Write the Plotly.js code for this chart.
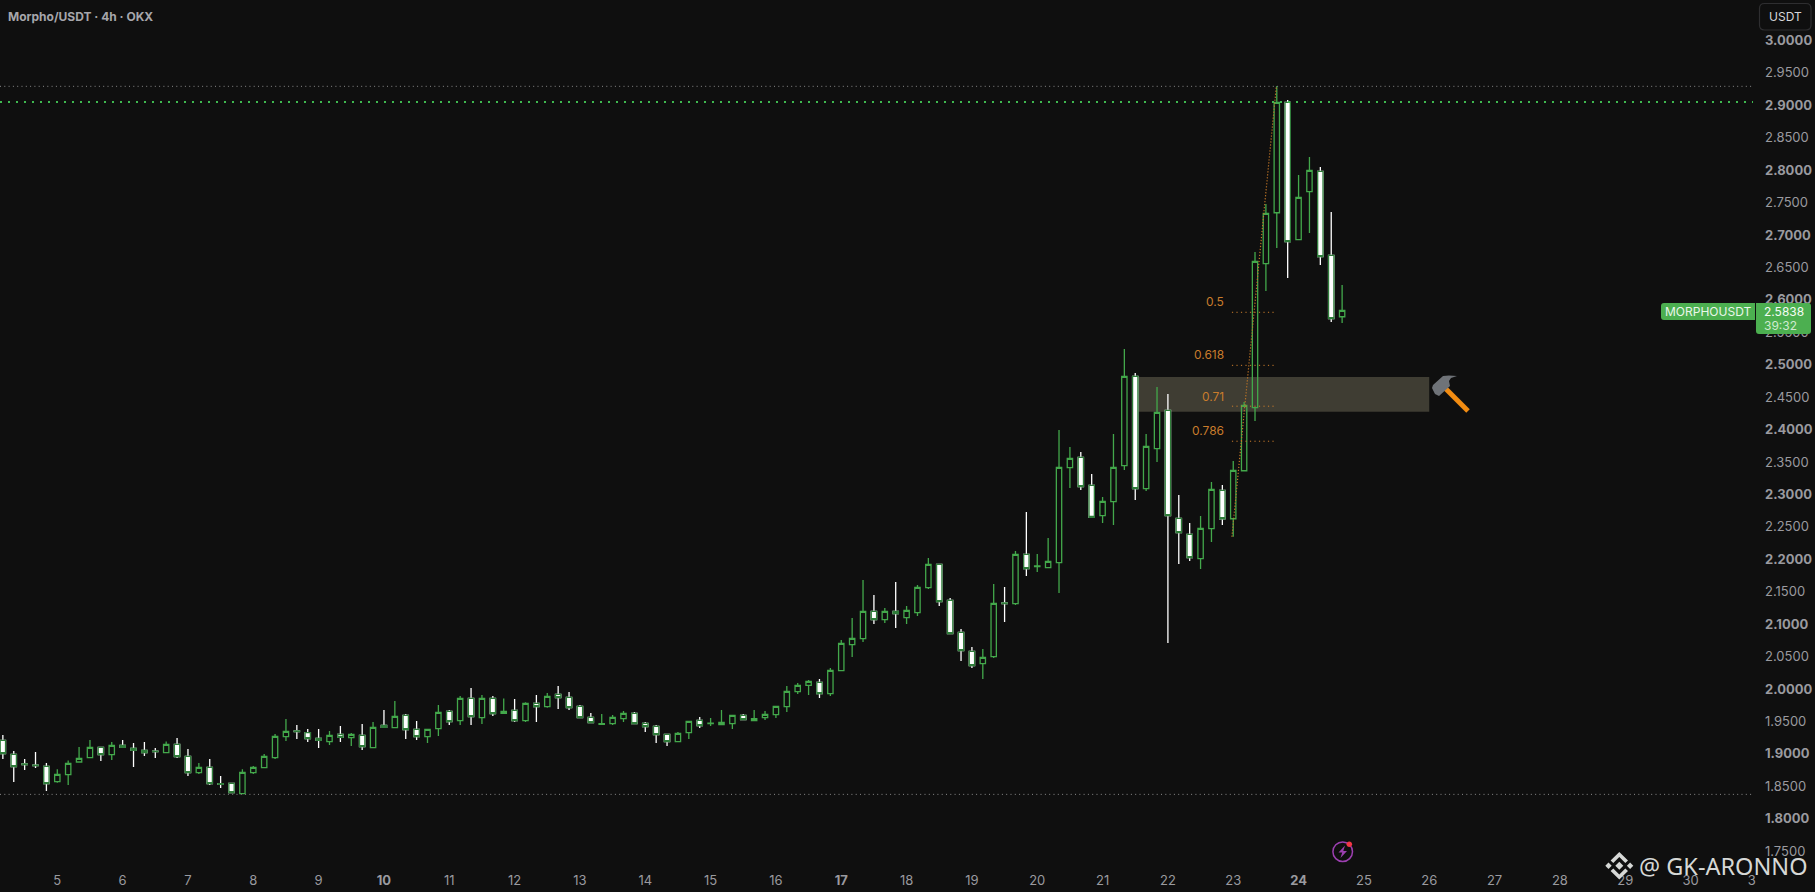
<!DOCTYPE html>
<html>
<head>
<meta charset="utf-8">
<script src="https://cdn.plot.ly/plotly-3.0.1.min.js"></script>
<style>html,body{margin:0;padding:0;background:#0f0f0f;overflow:hidden}#chart{width:1815px;height:892px}</style>
</head>
<body>
<div id="chart"></div>
<script>
// Candle data: 4h candles, first one on the 4th day at 04:00
const firstDay = 4 + 1/6;
const candlesPerDay = 6;
const opens = [1.9209,1.8993,1.8844,1.8828,1.8808,1.8572,1.8679,1.8875,1.8942,1.9101,1.8988,1.9132,1.9086,1.9055,1.9044,1.9019,1.9147,1.8962,1.8710,1.8792,1.8541,1.8546,1.8386,1.8710,1.8787,1.8942,1.9265,1.9353,1.9327,1.9240,1.9188,1.9301,1.9250,1.9286,1.9096,1.9440,1.9404,1.9594,1.9378,1.9265,1.9389,1.9656,1.9512,1.9856,1.9558,1.9856,1.9625,1.9671,1.9512,1.9779,1.9728,1.9918,1.9872,1.9733,1.9564,1.9456,1.9466,1.9543,1.9625,1.9471,1.9425,1.9301,1.9188,1.9327,1.9517,1.9466,1.9450,1.9466,1.9594,1.9512,1.9558,1.9605,1.9728,1.9959,2.0057,2.0103,1.9928,2.0283,2.0684,2.0777,2.1198,2.1070,2.1198,2.1101,2.1178,2.1563,2.1923,2.1368,2.0874,2.0581,2.0391,2.0499,2.1327,2.1317,2.2077,2.1887,2.1872,2.1949,2.3413,2.3572,2.3141,2.2673,2.2889,2.3444,2.4822,2.3089,2.3706,2.4297,2.2632,2.2385,2.2010,2.2472,2.3063,2.2626,2.3366,2.4338,2.6558,2.7344,2.9045,2.6928,2.7668,2.7981,2.6686,2.5740];
const highs = [1.9291,1.9044,1.8921,1.9029,1.8859,1.8762,1.8900,1.9106,1.9214,1.9101,1.9183,1.9214,1.9168,1.9183,1.9091,1.9193,1.9245,1.9075,1.8859,1.8921,1.8659,1.8546,1.8762,1.8813,1.8998,1.9307,1.9538,1.9445,1.9384,1.9384,1.9353,1.9430,1.9322,1.9461,1.9492,1.9677,1.9815,1.9615,1.9507,1.9378,1.9754,1.9677,1.9892,2.0016,1.9908,1.9892,1.9856,1.9846,1.9795,1.9908,1.9939,2.0047,1.9954,1.9754,1.9630,1.9615,1.9600,1.9661,1.9646,1.9492,1.9445,1.9307,1.9337,1.9507,1.9569,1.9553,1.9677,1.9600,1.9615,1.9677,1.9661,1.9733,2.0047,2.0093,2.0139,2.0155,2.0324,2.0756,2.1095,2.1681,2.1450,2.1250,2.1651,2.1280,2.1604,2.2021,2.1923,2.1404,2.0926,2.0648,2.0617,2.1620,2.1573,2.2129,2.2730,2.2082,2.2329,2.3994,2.3732,2.3655,2.3315,2.2961,2.3932,2.5243,2.4873,2.3932,2.4657,2.4549,2.2991,2.2560,2.2667,2.3192,2.3146,2.3516,2.4425,2.6738,2.7478,2.9297,2.9081,2.7925,2.8202,2.8048,2.7354,2.6229];
const lows = [1.8921,1.8566,1.8751,1.8782,1.8428,1.8556,1.8520,1.8864,1.8942,1.8890,1.8906,1.9096,1.8798,1.8967,1.8936,1.9014,1.8936,1.8659,1.8690,1.8520,1.8474,1.8402,1.8381,1.8690,1.8787,1.8921,1.9199,1.9229,1.9183,1.9091,1.9137,1.9183,1.9121,1.9060,1.9096,1.9404,1.9404,1.9229,1.9214,1.9168,1.9276,1.9445,1.9445,1.9445,1.9461,1.9584,1.9620,1.9492,1.9492,1.9492,1.9712,1.9692,1.9677,1.9558,1.9481,1.9445,1.9445,1.9492,1.9466,1.9337,1.9168,1.9121,1.9188,1.9229,1.9399,1.9430,1.9445,1.9384,1.9522,1.9507,1.9522,1.9553,1.9646,1.9923,1.9908,1.9862,1.9892,2.0283,2.0494,2.0725,2.1003,2.1018,2.0941,2.1003,2.1126,2.1543,2.1280,2.0854,2.0432,2.0324,2.0155,2.0479,2.1034,2.1296,2.1743,2.1805,2.1866,2.1481,2.3100,2.3069,2.2642,2.2560,2.2529,2.3377,2.2914,2.3053,2.3500,2.0709,2.1927,2.1974,2.1850,2.2267,2.2529,2.2349,2.3366,2.4132,2.6136,2.6799,2.6337,2.6928,2.7031,2.6537,2.5658,2.5642];
const closes = [1.9003,1.8803,1.8834,1.8818,1.8541,1.8685,1.8854,1.8931,1.9101,1.8988,1.9132,1.9101,1.9055,1.9019,1.9034,1.9147,1.8957,1.8710,1.8792,1.8541,1.8530,1.8402,1.8715,1.8792,1.8962,1.9271,1.9348,1.9343,1.9235,1.9209,1.9286,1.9255,1.9301,1.9111,1.9409,1.9409,1.9579,1.9373,1.9265,1.9378,1.9641,1.9497,1.9856,1.9574,1.9856,1.9620,1.9656,1.9512,1.9779,1.9728,1.9887,1.9867,1.9712,1.9558,1.9481,1.9466,1.9564,1.9625,1.9466,1.9420,1.9296,1.9188,1.9317,1.9502,1.9435,1.9476,1.9486,1.9594,1.9528,1.9543,1.9610,1.9733,1.9964,2.0057,2.0119,1.9928,2.0288,2.0705,2.0782,2.1198,2.1070,2.1198,2.1162,2.1214,2.1568,2.1923,2.1347,2.0854,2.0592,2.0360,2.0489,2.1322,2.1317,2.2077,2.1856,2.1897,2.1969,2.3418,2.3557,2.3120,2.2647,2.2894,2.3418,2.4822,2.3089,2.3742,2.4266,2.2673,2.2411,2.2025,2.2477,2.3079,2.2626,2.3372,2.4374,2.6594,2.7334,2.9045,2.6897,2.7581,2.7997,2.6666,2.5710,2.5838];

// Horizontal levels (price)
const topDotted = 2.9293, greenDotted = 2.9050, bottomDotted = 1.8376;
const axisStart = 4.1229, axisEnd = 30.956;
// Fibonacci levels
const fibRatios = ["0.5","0.618","0.71","0.786"];
const fibPrices = [2.5809,2.4991,2.4361,2.3821];
const fibStart = 22.98, fibEnd = 23.63;
const diagX = [22.98,23.66], diagY = [2.2349,2.9293];
// Highlight zone
const zoneDays = [21.5,26.0], zonePrices = [2.4276,2.4811];
// Tick labels
const dayVals = [5,6,7,8,9,10,11,12,13,14,15,16,17,18,19,20,21,22,23,24,25,26,27,28,29,30,30.936];
const dayText = ["5","6","7","8","9","10","11","12","13","14","15","16","17","18","19","20","21","22","23","24","25","26","27","28","29","30","3"];
const boldDays = ["10","17","24"];
const priceVals = [1.75,1.8,1.85,1.9,1.95,2.0,2.05,2.1,2.15,2.2,2.25,2.3,2.35,2.4,2.45,2.5,2.55,2.6,2.65,2.7,2.75,2.8,2.85,2.9,2.95,3.0];

const UP='#43a84b', DOWNEDGE='#2f7d3a', WHITE='#ffffff', BG='#0f0f0f', ORANGE='#c97c2c', LABEL='#4caf50';
const W=1753,H=865;
const X=v=>(v/W), Y=v=>(1-v/H);
const P=(pts,close)=>pts.map((p,i)=>(i?'L':'M')+X(p[0])+' '+Y(p[1])).join(' ')+(close?' Z':'');
function rrect(x0,y0,x1,y1,r,rs){
  const R=rs||[1,1,1,1];
  const q=(cx,cy,ex,ey)=>`Q ${X(cx)} ${Y(cy)} ${X(ex)} ${Y(ey)}`;
  const l=(ex,ey)=>`L ${X(ex)} ${Y(ey)}`;
  return `M ${X(x0+(R[0]?r:0))} ${Y(y0)} `+l(x1-(R[1]?r:0),y0)+' '+(R[1]?q(x1,y0,x1,y0+r):'')+' '+l(x1,y1-(R[2]?r:0))+' '+(R[2]?q(x1,y1,x1-r,y1):'')+' '+l(x0+(R[3]?r:0),y1)+' '+(R[3]?q(x0,y1,x0,y1-r):'')+' '+l(x0,y0+(R[0]?r:0))+' '+(R[0]?q(x0,y0,x0+r,y0):'')+' Z';
}
function circle(cx,cy,r){
  const k=.5523*r;
  const c=(a,b,d,e,f,g)=>`C ${X(a)} ${Y(b)} ${X(d)} ${Y(e)} ${X(f)} ${Y(g)}`;
  return `M ${X(cx+r)} ${Y(cy)} `+c(cx+r,cy+k,cx+k,cy+r,cx,cy+r)+' '+c(cx-k,cy+r,cx-r,cy+k,cx-r,cy)+' '+c(cx-r,cy-k,cx-k,cy-r,cx,cy-r)+' '+c(cx+k,cy-r,cx+r,cy-k,cx+r,cy)+' Z';
}

const xs = opens.map((_,i)=>firstDay+i/candlesPerDay);
const downIdx = opens.map((o,i)=>closes[i]<o?i:-1).filter(i=>i>=0);

const traces = [
  {type:'candlestick',x:xs,open:opens,high:highs,low:lows,close:closes,hoverinfo:'skip',
    increasing:{line:{color:UP,width:1.3},fillcolor:'rgba(0,0,0,0)'},
    decreasing:{line:{color:WHITE,width:1.3},fillcolor:WHITE},whiskerwidth:0},
  {type:'candlestick',x:downIdx.map(i=>xs[i]),open:downIdx.map(i=>opens[i]),close:downIdx.map(i=>closes[i]),
    high:downIdx.map(i=>opens[i]),low:downIdx.map(i=>closes[i]),hoverinfo:'skip',
    increasing:{line:{color:DOWNEDGE,width:1.3},fillcolor:WHITE},
    decreasing:{line:{color:DOWNEDGE,width:1.3},fillcolor:WHITE},whiskerwidth:0},
  {type:'scatter',mode:'lines',x:[axisStart,axisEnd],y:[topDotted,topDotted],hoverinfo:'skip',line:{color:'#8a8a8a',width:1,dash:'1px,3.3px'}},
  {type:'scatter',mode:'lines',x:[axisStart,axisEnd],y:[bottomDotted,bottomDotted],hoverinfo:'skip',line:{color:'#8a8a8a',width:1,dash:'1px,3.3px'}},
  {type:'scatter',mode:'lines',x:[axisStart,axisEnd],y:[greenDotted,greenDotted],hoverinfo:'skip',line:{color:'#3fb950',width:2,dash:'2px,6px'}},
  {type:'scatter',mode:'lines',x:diagX,y:diagY,hoverinfo:'skip',line:{color:'#c07526',width:1.2,dash:'1.2px,1.8px'}}
];
fibPrices.forEach(p=>traces.push({type:'scatter',mode:'lines',x:[fibStart,fibEnd],y:[p,p],hoverinfo:'skip',line:{color:ORANGE,width:1,dash:'1.2px,3.3px'}}));

const shapes = [
  {type:'rect',layer:'below',xref:'x',yref:'y',x0:zoneDays[0],x1:zoneDays[1],y0:zonePrices[0],y1:zonePrices[1],fillcolor:'#3f3d33',line:{width:0}},
  {type:'path',xref:'paper',yref:'paper',path:rrect(1759.5,3.5,1811,30,5),fillcolor:'rgba(0,0,0,0)',line:{color:'#2e2e30',width:1.2}},
  {type:'path',xref:'paper',yref:'paper',path:rrect(1661,303,1755,320,3,[1,0,0,1]),fillcolor:LABEL,line:{width:0}},
  {type:'path',xref:'paper',yref:'paper',path:rrect(1756,303,1811,334,3,[0,1,1,1]),fillcolor:LABEL,line:{width:0}},
  {type:'path',xref:'paper',yref:'paper',path:P([[1445,388],[1468,411]]),line:{color:'#f28c12',width:5}},
  {type:'path',xref:'paper',yref:'paper',fillcolor:'#6f7378',line:{width:0},
    path:P([[1432,388],[1433,385],[1443,376],[1449,375.5],[1457,376],[1451,378],[1449,381],[1450,386],[1439,396],[1435,394]],true)},
  {type:'path',xref:'paper',yref:'paper',path:circle(1342.7,851.7,9.8),fillcolor:'rgba(0,0,0,0)',line:{color:'#9c3fb0',width:1.5}},
  {type:'path',xref:'paper',yref:'paper',path:P([[1345,845.5],[1338.5,852.5],[1342.2,852.5],[1340.5,858],[1347,851],[1343.3,851]],true),fillcolor:'#9c3fb0',line:{width:0}},
  {type:'path',xref:'paper',yref:'paper',path:circle(1349.3,844.2,2.8),fillcolor:'#f23645',line:{width:0}},
  ...[
    [[1619.3,861.7],[1623.3,865.7],[1619.3,869.7],[1615.3,865.7]],
    [[1608.5,862.5],[1611.7,865.7],[1608.5,868.9],[1605.3,865.7]],
    [[1630.1,862.5],[1633.3,865.7],[1630.1,868.9],[1626.9,865.7]],
    [[1619.3,852],[1628,860.5],[1625.3,863],[1619.3,857],[1613.3,863],[1610.6,860.5]],
    [[1619.3,879.4],[1628,870.9],[1625.3,868.4],[1619.3,874.4],[1613.3,868.4],[1610.6,870.9]]
  ].map(pts=>({type:'path',xref:'paper',yref:'paper',path:P(pts,true),fillcolor:'#d6d8d6',line:{width:0}}))
];

const note=(text,x,y,opts)=>Object.assign({text,xref:'paper',yref:'paper',x:X(x),y:Y(y),showarrow:false,xanchor:'left',yanchor:'middle',borderpad:0,font:{family:'Inter, sans-serif',size:12,color:'#a8a8ad'}},opts||{});

const annotations = [
  note('<b>Morpho/USDT · 4h · OKX</b>',7,16.5,{font:{family:'Inter, sans-serif',size:12,color:'#a6a6ab'}}),
  note('USDT',1785.3,16.5,{xanchor:'center',font:{family:'Inter, sans-serif',size:12,color:'#d6d6da'}}),
  note('MORPHOUSDT',1708,311.5,{xanchor:'center',font:{family:'Inter, sans-serif',size:12,color:'#eaf6ea'}}),
  note('2.5838',1784,311.5,{xanchor:'center',font:{family:'Inter, sans-serif',size:12,color:'#f4fbf4'}}),
  note('39:32',1780,325.5,{xanchor:'center',font:{family:'Inter, sans-serif',size:12,color:'#cfeacf'}}),
  ...fibRatios.map((t,i)=>note(t,1225,[302,355,396,431][i],{xanchor:'right',font:{family:'Inter, sans-serif',size:12,color:ORANGE}})),
  note('@ GK-ARONNO',1638,866,{font:{family:'"Noto Sans", sans-serif',size:23.5,color:'#d6d8d6'}})
];

const layout = {
  width:1815,height:892,
  paper_bgcolor:BG,plot_bgcolor:BG,showlegend:false,
  margin:{l:0,r:62,t:0,b:27,pad:0},
  xaxis:{type:'linear',range:[axisStart,axisEnd],rangeslider:{visible:false},showgrid:false,zeroline:false,showline:false,ticks:'',
    tickmode:'array',tickvals:dayVals,ticktext:dayText.map(t=>boldDays.includes(t)?`<b>${t}</b>`:t),
    tickfont:{family:'Inter, sans-serif',size:13,color:'#9a9a9f'},automargin:false,ticklabelstandoff:6},
  yaxis:{type:'linear',side:'right',range:[1.7287,3.0624],showgrid:false,zeroline:false,showline:false,ticks:'',
    tickmode:'array',tickvals:priceVals,
    ticktext:priceVals.map(v=>Math.round(v*100)%10===0?`<b>${v.toFixed(4)}</b>`:v.toFixed(4)),
    tickfont:{family:'Inter, sans-serif',size:13,color:'#9a9a9f'},automargin:false,ticklabelstandoff:11},
  shapes,annotations
};
Plotly.newPlot('chart',traces,layout,{displayModeBar:false,staticPlot:true});
</script>
</body>
</html>
